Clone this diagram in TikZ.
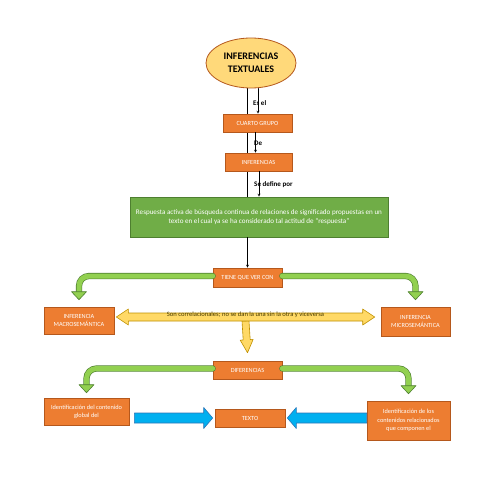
\documentclass[tikz,border=0pt]{standalone}
\usepackage{fontspec}
\setmainfont{Carlito}
\usetikzlibrary{shapes.geometric,calc,backgrounds}
\definecolor{naranja}{HTML}{ED7D31}
\definecolor{bordenar}{HTML}{B5581C}
\definecolor{crema}{HTML}{FFD97A}
\definecolor{verde}{HTML}{70AD47}
\definecolor{bordever}{HTML}{4E7F30}
\definecolor{verdecla}{HTML}{92D050}
\definecolor{amarillo}{HTML}{FFD966}
\definecolor{bordeama}{HTML}{BF9000}
\definecolor{celeste}{HTML}{00B0F0}
\definecolor{bordecel}{HTML}{2E75B6}
\tikzset{
  caja/.style={draw=bordenar, line width=0.6pt, fill=naranja, text=white, align=center,
    inner sep=1pt, font=\fontsize{6.3}{8}\selectfont},
  etiqueta/.style={anchor=west, inner sep=0pt, font=\fontsize{7}{8}\selectfont\bfseries},
  gcano/.style={draw=bordever, line width=0.6pt, double=verdecla, double distance=5pt, rounded corners=10pt},
  gpunta/.style={draw=bordever, line width=0.6pt, fill=verdecla, line join=round},
  amarilla/.style={draw=bordeama, line width=0.6pt, fill=amarillo, line join=round},
  azul/.style={draw=bordecel, line width=0.6pt, fill=celeste, line join=round}
}
% flecha gruesa: estilo, inicio, punta, semiancho, semicabeza, largo cabeza
\newcommand{\flechagruesa}[6]{%
  \coordinate (fb) at ($(#3)!#6!(#2)$);
  \draw[#1] ($(#2)!#4!90:(#3)$) -- ($(fb)!#4!90:(#3)$) -- ($(fb)!#5!90:(#3)$) -- (#3)
    -- ($(fb)!#5!-90:(#3)$) -- ($(fb)!#4!-90:(#3)$) -- ($(#2)!#4!-90:(#3)$) -- cycle;}
% flecha verde doblada: inicio, punta
\newcommand{\flechadoblada}[2]{%
  \draw[gcano] (#1) -- (#1 -| #2) -- ([yshift=7pt]#2);
  \draw[gpunta] ([xshift=-7.5pt,yshift=8pt]#2) -- (#2) -- ([xshift=7.5pt,yshift=8pt]#2) -- cycle;}
\begin{document}
\begin{tikzpicture}[x=1pt, y=-1pt, >=stealth, line cap=round]
\useasboundingbox (0,0) rectangle (495,495);
% nodos
\node[ellipse, draw=bordenar, line width=0.8pt, fill=crema, minimum width=90pt, minimum height=50pt,
  inner sep=0pt, align=center, font=\fontsize{10}{12.5}\selectfont\bfseries] (titulo) at (251,63)
  {INFERENCIAS\\TEXTUALES};
\node[caja, minimum width=69pt, minimum height=18pt] (cuarto) at (257.5,123) {CUARTO GRUPO};
\node[caja, minimum width=67pt, minimum height=18pt] (infer) at (258.5,162) {INFERENCIAS};
\node[draw=bordever, line width=0.6pt, fill=verde, text=white, align=center, minimum width=258pt,
  minimum height=40pt, inner sep=1pt, font=\fontsize{7.1}{9.5}\selectfont] (respuesta) at (259,217)
  {Respuesta activa de búsqueda continua de relaciones de significado propuestas en un\\
   texto en el cual ya se ha considerado tal actitud de “respuesta”};
\node[caja, minimum width=69pt, minimum height=19pt] (tiene) at (247.5,277.5) {TIENE QUE VER CON};
\node[caja, minimum width=70pt, minimum height=27pt] (macro) at (79,320.5) {INFERENCIA\\MACROSEMÁNTICA};
\node[caja, minimum width=69pt, minimum height=29pt] (micro) at (415.5,321.5) {INFERENCIA\\MICROSEMÁNTICA};
\node[caja, minimum width=69pt, minimum height=18pt] (dif) at (247.5,370) {DIFERENCIAS};
\node[caja, minimum width=85pt, minimum height=27pt] (global) at (86.5,411.5)
  {Identificación del contenido\\global del};
\node[caja, minimum width=70pt, minimum height=18pt] (texto) at (250,418) {TEXTO};
\node[caja, minimum width=83pt, minimum height=39pt, font=\fontsize{6.3}{8.8}\selectfont] (compon)
  at (408.5,420.5) {Identificación de los\\contenidos relacionados\\que componen el};
% conectores finos
\begin{scope}[on background layer]
\draw ([xshift=-4pt]titulo.south) -- ([xshift=-4pt]titulo.south |- respuesta.north);
\end{scope}
\draw[->] ([xshift=7pt]titulo.south) -- ([xshift=7pt]titulo.south |- cuarto.north);
\draw[->] ([xshift=-2pt]cuarto.south) -- ([xshift=-2pt]cuarto.south |- infer.north);
\draw[->] ([xshift=0.5pt]infer.south) -- ([xshift=0.5pt]infer.south |- respuesta.north);
\draw[->] (respuesta.south -| tiene.north) -- (tiene.north);
\node[etiqueta] (esel) at (253,103) {Es el};
\node[etiqueta] (de) at (254,143) {De};
\node[etiqueta] (sedefine) at (254,185) {Se define por};
% flechas verdes
\coordinate (t1) at ([yshift=1.5pt]tiene.west);
\coordinate (t2) at ([yshift=1.5pt]tiene.east);
\coordinate (m1) at ([yshift=7pt]macro.north);
\coordinate (m2) at ([yshift=7pt]micro.north);
\flechadoblada{t1}{m1}
\flechadoblada{t2}{m2}
\coordinate (d1) at ([yshift=1.5pt]dif.west);
\coordinate (d2) at ([yshift=1.5pt]dif.east);
\coordinate (g1) at ([yshift=5pt]global.north);
\coordinate (g2) at ([yshift=7pt]compon.north);
\flechadoblada{d1}{g1}
\flechadoblada{d2}{g2}
% flechas amarillas
\coordinate (ya) at ([xshift=2pt,yshift=3.5pt]macro.east);
\coordinate (yb) at ([xshift=-6pt]micro.west |- ya);
\coordinate (ym) at ($(ya)!0.5!(yb)+(0,4)$);
\flechagruesa{amarilla}{ym}{[yshift=8pt]dif.north}{3.5pt}{6.5pt}{13pt}
\draw[amarilla] (ya) -- ($(ya)+(12,-8)$) -- ($(ya)+(12,-4)$) -- ($(yb)+(-12,-4)$) -- ($(yb)+(-12,-8)$)
  -- (yb) -- ($(yb)+(-12,8)$) -- ($(yb)+(-12,4)$) -- ($(ya)+(12,4)$) -- ($(ya)+(12,8)$) -- cycle;
\node[inner sep=0pt, text={rgb,255:red,70;green,58;blue,0}, font=\fontsize{6.6}{7.5}\selectfont] (correl)
  at ($(ya)!0.5!(yb)+(0,-2.5)$) {Son correlacionales; no se dan la una sin la otra y viceversa};
% flechas azules
\flechagruesa{azul}{[xshift=5pt]global.east |- texto.west}{[xshift=-2pt]texto.west}{5pt}{10.5pt}{9pt}
\flechagruesa{azul}{compon.west |- texto.east}{[xshift=2pt]texto.east}{5pt}{10.5pt}{9pt}
\end{tikzpicture}
\end{document}
